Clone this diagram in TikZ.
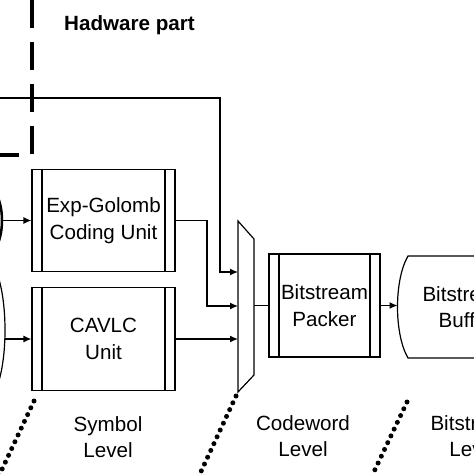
\documentclass[tikz,border=0pt]{standalone}
\usepackage{fontspec}
\setmainfont{Liberation Sans}
\usetikzlibrary{arrows.meta}

\begin{document}
\begin{tikzpicture}[x=1pt,y=-1pt,line width=1.2pt,
	>={Latex[length=8pt,width=7pt]},
	every node/.style={font=\fontsize{20.6}{26.5}\selectfont,align=center,inner sep=0pt},
	unit/.style={draw,minimum width=143pt,minimum height=102pt,
		path picture={\draw ([xshift=10pt]path picture bounding box.north west) -- ([xshift=10pt]path picture bounding box.south west)
			([xshift=-10pt]path picture bounding box.north east) -- ([xshift=-10pt]path picture bounding box.south east);}},
	split/.style={line width=4.5pt,dash pattern=on 28pt off 14pt},
	border/.style={line width=5pt,line cap=round,dash pattern=on 0pt off 7.5pt}]
	\useasboundingbox (0,0) rectangle (474,474);
	\clip (0,0) rectangle (474,474);
	
	\node[font=\fontsize{20.6}{26.5}\selectfont\bfseries] (hw) at (129.5,25) {Hadware part};
	\draw[split] (32,0) -- (32,155) -- (0,155);
	
	\node[unit] (exp) at (103.5,220.5) {Exp-Golomb\\Coding Unit};
	\node[unit,minimum height=103pt] (cavlc) at (103.5,339) {CAVLC\\Unit};
	\node[unit,minimum width=111pt,minimum height=103pt] (pack) at (324.5,305.5) {Bitstream\\Packer};
	\node (buf) at (466,307) {Bitstream\\Buffer};
	\draw (500,256) -- (408,256) .. controls (394,280) and (394,334) .. (408,358) -- (500,358);
	\coordinate (buf-in) at (397.5,305.5);
	
	\draw (238,221) -- (254,239) -- (254,375) -- (238,392) -- cycle;
	\coordinate (mux-in1) at (238,272);
	\coordinate (mux-in2) at (238,306);
	\coordinate (mux-in3) at (238,339);
	\coordinate (mux-out) at (254,305.5);
	
	\draw[line width=2.5pt] (-20,220.5) ellipse [x radius=22pt, y radius=40pt];
	\draw (-15,330) ellipse [x radius=20pt, y radius=71pt];
	\coordinate (in1) at (2,220.5);
	\coordinate (in2) at (5,339);
	\coordinate (ctrl) at (0,98);
	
	\draw[->] (in1) -- (exp.west);
	\draw[->] (in2) -- (cavlc.west);
	\draw[->] (ctrl) -| ([xshift=-18pt]mux-in1) -- (mux-in1);
	\draw[->] (exp.east) -| ([xshift=-31pt]mux-in2) -- (mux-in2);
	\draw[->] (cavlc.east) -- (mux-in3);
	\draw (mux-out) -- (pack.west);
	\draw[->] (pack.east) -- (buf-in);
	
	\draw[border] (34,401) -- (-3,480);
	\draw[border] (236,396) -- (198,478);
	\draw[border] (407,402) -- (371,478);
	\node (sym) at (108,437) {Symbol\\Level};
	\node (cw) at (303,436) {Codeword\\Level};
	\node (bsl) at (474,436) {Bitstream\\Level};
\end{tikzpicture}
\end{document}
